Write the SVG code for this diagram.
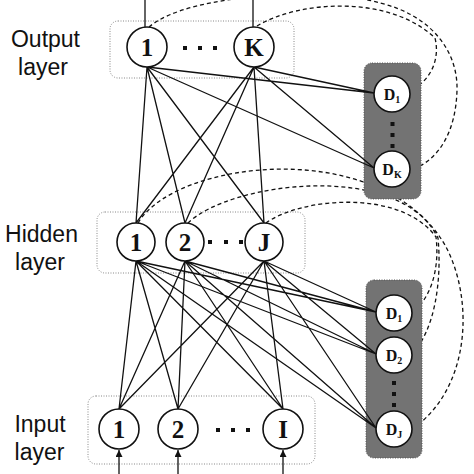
<svg xmlns="http://www.w3.org/2000/svg" width="474" height="474" viewBox="0 0 474 474">
<defs>
<style>
.lbl{font-family:"Liberation Sans",Arial,sans-serif;font-size:23px;fill:#111;text-anchor:middle}
.layer{fill:none;stroke:#888;stroke-width:1;stroke-dasharray:1 1.5}
.dbox{fill:#737373;stroke:#555;stroke-width:1;stroke-dasharray:1 1.5}
.node{fill:#fff;stroke:#111;stroke-width:1.6}
.nt{font-family:"Liberation Serif","Times New Roman",serif;font-weight:bold;font-size:25px;fill:#111;text-anchor:middle}
.dt{font-family:"Liberation Serif","Times New Roman",serif;font-weight:bold;font-size:16px;fill:#111;text-anchor:middle}
.ln{stroke:#111;stroke-width:1.3;fill:none}
.dash{stroke:#111;stroke-width:1.3;fill:none;stroke-dasharray:4 3}
.dot{fill:#111}
</style>
<marker id="arr" viewBox="0 0 10 10" refX="10" refY="5" markerWidth="7" markerHeight="7" markerUnits="userSpaceOnUse" orient="auto">
<path d="M0,0 L10,5 L0,10 z" fill="#111"/>
</marker>
</defs>

<g id="labels">
<text class="lbl" x="45.5" y="46.5">Output</text>
<text class="lbl" x="43" y="75">layer</text>
<text class="lbl" x="41.5" y="241.5">Hidden</text>
<text class="lbl" x="40" y="270">layer</text>
<text class="lbl" x="40" y="432">Input</text>
<text class="lbl" x="39.5" y="460">layer</text>
</g>

<g id="layer-boxes">
<rect id="output-layer-box" class="layer" x="110" y="21" width="184" height="57" rx="8"/>
<rect id="hidden-layer-box" class="layer" x="97" y="212" width="208" height="61" rx="8"/>
<rect id="input-layer-box" class="layer" x="88" y="396" width="227" height="68" rx="8"/>
</g>

<g id="connectors">
<g id="dashed-recurrent">
<path class="dash" d="M149 27 C190 -8 330 -12 380 3 C430 15 458 50 457 90 C456 130 440 160 411 170"/>
<path class="dash" d="M257 26 C300 0 390 -5 435 38 C440 58 432 80 410 91"/>
<path class="dash" d="M266 223 C300 198 400 188 436 237 C440 270 430 300 412 312"/>
<path class="dash" d="M188 223 C230 182 400 160 438 238 C442 280 435 330 412 354"/>
<path class="dash" d="M138 223 C175 160 380 135 445 245 C475 300 470 390 412 429"/>
</g>
</g>

<g id="output-d-box">
<rect class="dbox" x="364" y="63" width="57" height="136" rx="8"/>
<rect class="dot" x="390.5" y="122" width="4" height="4"/>
<rect class="dot" x="390.5" y="133" width="4" height="4"/>
<rect class="dot" x="390.5" y="144" width="4" height="4"/>
</g>
<g id="hidden-d-box">
<rect class="dbox" x="366" y="280" width="56" height="178" rx="8"/>
<rect class="dot" x="392" y="381" width="4" height="4"/>
<rect class="dot" x="392" y="392" width="4" height="4"/>
<rect class="dot" x="392" y="403" width="4" height="4"/>
</g>

<g id="solid-connectors">
<line class="ln" x1="145" y1="0" x2="145" y2="27"/>
<line class="ln" x1="253" y1="0" x2="253" y2="27"/>
<line class="ln" x1="119" y1="474" x2="119" y2="450" marker-end="url(#arr)"/>
<line class="ln" x1="178" y1="474" x2="178" y2="450" marker-end="url(#arr)"/>
<line class="ln" x1="283" y1="474" x2="283" y2="450" marker-end="url(#arr)"/>
<g id="output-hidden">
<path class="ln" d="M147 67 L136 223 M147 67 L185 223 M147 67 L264 223 M254 67 L136 223 M254 67 L185 223 M254 67 L264 223"/>
<path class="ln" d="M147 67 L374 93 M147 67 L374 168 M254 67 L374 93 M254 67 L374 168"/>
</g>
<g id="hidden-input">
<path class="ln" d="M136 261 L119 409 M136 261 L178 409 M136 261 L283 409 M185 261 L119 409 M185 261 L178 409 M185 261 L283 409 M264 261 L119 409 M264 261 L178 409 M264 261 L283 409"/>
<path class="ln" d="M136 261 L376 312 M136 261 L376 354 M136 261 L376 428 M185 261 L376 312 M185 261 L376 354 M185 261 L376 428 M264 261 L376 312 M264 261 L376 354 M264 261 L376 428"/>
</g>
</g>

<g id="output-nodes">
<g id="out-1"><circle class="node" cx="147" cy="47" r="20"/><text class="nt" x="147" y="56">1</text></g>
<g id="out-K"><circle class="node" cx="254" cy="47" r="20"/><text class="nt" x="254" y="56">K</text></g>
<rect class="dot" x="183" y="46" width="4" height="4"/>
<rect class="dot" x="198" y="46" width="4" height="4"/>
<rect class="dot" x="213" y="46" width="4" height="4"/>
</g>
<g id="hidden-nodes">
<g id="hid-1"><circle class="node" cx="136" cy="242" r="19"/><text class="nt" x="136" y="251">1</text></g>
<g id="hid-2"><circle class="node" cx="185" cy="242" r="19"/><text class="nt" x="185" y="251">2</text></g>
<g id="hid-J"><circle class="node" cx="264" cy="242" r="19"/><text class="nt" x="264" y="251">J</text></g>
<rect class="dot" x="208" y="240" width="4" height="4"/>
<rect class="dot" x="224" y="240" width="4" height="4"/>
<rect class="dot" x="239" y="240" width="4" height="4"/>
</g>
<g id="input-nodes">
<g id="in-1"><circle class="node" cx="119" cy="429" r="20"/><text class="nt" x="119" y="438">1</text></g>
<g id="in-2"><circle class="node" cx="178" cy="429" r="20"/><text class="nt" x="178" y="438">2</text></g>
<g id="in-I"><circle class="node" cx="283" cy="429" r="20"/><text class="nt" x="283" y="438">I</text></g>
<rect class="dot" x="216" y="428" width="4" height="4"/>
<rect class="dot" x="231" y="428" width="4" height="4"/>
<rect class="dot" x="246" y="428" width="4" height="4"/>
</g>
<g id="output-d-nodes">
<g id="od-1"><circle class="node" cx="392" cy="94" r="18"/><text class="dt" x="392" y="100">D<tspan font-size="10" dy="3">1</tspan></text></g>
<g id="od-K"><circle class="node" cx="392" cy="169" r="18"/><text class="dt" x="392" y="175">D<tspan font-size="10" dy="3">K</tspan></text></g>
</g>
<g id="hidden-d-nodes">
<g id="hd-1"><circle class="node" cx="394" cy="313" r="18"/><text class="dt" x="394" y="319">D<tspan font-size="10" dy="3">1</tspan></text></g>
<g id="hd-2"><circle class="node" cx="394" cy="355" r="18"/><text class="dt" x="394" y="361">D<tspan font-size="10" dy="3">2</tspan></text></g>
<g id="hd-J"><circle class="node" cx="394" cy="429" r="18"/><text class="dt" x="394" y="435">D<tspan font-size="10" dy="3">J</tspan></text></g>
</g>
</svg>
